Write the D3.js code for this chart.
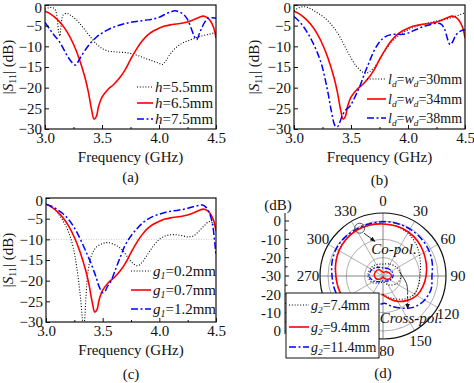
<!DOCTYPE html>
<html><head><meta charset="utf-8">
<script src="https://cdn.jsdelivr.net/npm/d3@7"></script>
<style>
body{margin:0;background:#fff}
svg{display:block}
text{font-family:"Liberation Serif","Times New Roman",serif;fill:#111}
</style>
</head><body>
<svg id="chart" width="474" height="383"></svg>
<script>
// ---------------- DATA ----------------
const freqTicks = [3.0, 3.5, 4.0, 4.5];
const freqMinor = [3.25, 3.75, 4.25];
const dbTicks = [0, -5, -10, -15, -20, -25, -30];

// reference design (red curve, shared by a, b, c)
const s11Base = [[3.00,-1.5],[3.05,-2.2],[3.10,-3.3],[3.15,-4.8],[3.20,-6.8],[3.25,-9.5],[3.30,-13],[3.35,-17.5],[3.38,-21],[3.41,-25.5],[3.43,-27.6],[3.45,-27],[3.47,-24.5],[3.50,-22.3],[3.55,-20.5],[3.60,-19.3],[3.65,-17.8],[3.70,-15.8],[3.75,-13.2],[3.80,-10.8],[3.85,-8.8],[3.90,-7.3],[3.95,-6.3],[4.00,-5.6],[4.05,-5.1],[4.10,-4.8],[4.15,-4.6],[4.20,-4.4],[4.25,-4.1],[4.30,-3.6],[4.35,-3.0],[4.39,-2.7],[4.42,-3.0],[4.45,-3.8],[4.48,-5.5],[4.50,-8]];

// (a) h
const a_h55 = [[3.00,-1.0],[3.04,-0.6],[3.08,-0.8],[3.10,-2.0],[3.12,-6.5],[3.13,-7.5],[3.145,-4.0],[3.16,-2.4],[3.19,-2.0],[3.22,-2.4],[3.26,-3.2],[3.30,-4.3],[3.35,-6.0],[3.40,-7.8],[3.45,-9.4],[3.50,-10.5],[3.55,-11.1],[3.60,-11.3],[3.65,-11.4],[3.70,-11.5],[3.75,-11.7],[3.80,-12.1],[3.85,-12.6],[3.90,-13.1],[3.95,-13.6],[4.00,-14.1],[4.03,-14.4],[4.06,-13.5],[4.10,-11.8],[4.15,-10.3],[4.20,-9.3],[4.25,-8.7],[4.30,-8.2],[4.35,-7.7],[4.40,-7.3],[4.45,-7.0],[4.50,-6.6]];
const a_h75 = [[3.00,-4.2],[3.04,-5.8],[3.08,-7.3],[3.12,-8.6],[3.16,-10.5],[3.20,-12.5],[3.24,-14.0],[3.27,-14.5],[3.30,-13.2],[3.35,-11],[3.40,-9.2],[3.45,-7.8],[3.50,-6.8],[3.55,-6.0],[3.60,-5.4],[3.65,-4.9],[3.70,-4.5],[3.75,-4.2],[3.80,-4.0],[3.85,-3.8],[3.90,-3.6],[3.95,-3.4],[4.00,-3.0],[4.05,-2.3],[4.10,-1.7],[4.14,-1.4],[4.18,-1.7],[4.22,-2.4],[4.25,-3.5],[4.28,-5.5],[4.31,-7.6],[4.33,-8.4],[4.36,-6.5],[4.40,-4.2],[4.43,-3.2],[4.47,-3.1],[4.50,-3.2]];
const a_labels = ["*h*=5.5mm", "*h*=6.5mm", "*h*=7.5mm"];

// (b) ld = wd
const b_30 = [[3.00,-1.4],[3.04,-0.7],[3.08,-0.4],[3.12,-0.6],[3.16,-1.1],[3.20,-1.8],[3.25,-2.7],[3.30,-3.9],[3.35,-5.5],[3.40,-7.6],[3.45,-10.2],[3.50,-12.8],[3.55,-14.9],[3.60,-16.2],[3.63,-16.5],[3.66,-16.2],[3.70,-15.2],[3.75,-13.2],[3.80,-11],[3.85,-9.2],[3.90,-7.8],[3.95,-6.8],[4.00,-6.0],[4.05,-5.4],[4.10,-4.9],[4.15,-4.5],[4.20,-4.2],[4.25,-3.9],[4.30,-3.6],[4.35,-3.3],[4.40,-2.9],[4.45,-2.4],[4.50,-1.9]];
const b_38 = [[3.00,-2.8],[3.04,-3.8],[3.08,-5.1],[3.12,-6.8],[3.16,-8.8],[3.20,-11.2],[3.24,-14.2],[3.27,-17.5],[3.30,-21.5],[3.33,-26],[3.36,-29.2],[3.38,-29.5],[3.40,-28.5],[3.42,-27],[3.45,-25.5],[3.49,-24.5],[3.53,-22.5],[3.58,-19.5],[3.62,-16.5],[3.66,-13.8],[3.70,-11.2],[3.74,-9.3],[3.78,-8.1],[3.82,-7.4],[3.88,-7.1],[3.95,-7.1],[4.00,-6.8],[4.05,-6.2],[4.10,-5.6],[4.15,-5.1],[4.20,-4.7],[4.25,-4.4],[4.29,-4.6],[4.32,-5.8],[4.35,-8.5],[4.37,-9.6],[4.39,-9.0],[4.42,-7.3],[4.46,-6.3],[4.50,-6.0]];
const b_labels = ["*l*_d=*w*_d=30mm", "*l*_d=*w*_d=34mm", "*l*_d=*w*_d=38mm"];

// (c) g1
const c_02 = [[3.00,-1.5],[3.05,-2.2],[3.10,-3.5],[3.15,-5.5],[3.20,-8.3],[3.24,-12],[3.27,-16.5],[3.30,-23],[3.32,-29],[3.33,-33],[3.34,-30],[3.355,-23],[3.37,-18],[3.40,-14],[3.44,-12],[3.50,-11],[3.55,-10.8],[3.62,-11.5],[3.67,-12.5],[3.72,-14.3],[3.77,-15.9],[3.81,-16.4],[3.85,-15.5],[3.90,-13.5],[3.95,-11.5],[4.00,-10],[4.05,-9.2],[4.10,-8.9],[4.15,-8.9],[4.20,-9.1],[4.25,-9.4],[4.30,-9.2],[4.35,-8.0],[4.40,-6.6],[4.44,-5.7],[4.48,-6.3],[4.50,-7.5]];
const c_12 = [[3.00,-1.5],[3.05,-2.0],[3.10,-2.8],[3.15,-3.8],[3.20,-5.2],[3.25,-7.2],[3.30,-9.8],[3.35,-12.8],[3.40,-16],[3.44,-19],[3.47,-21.5],[3.50,-22.9],[3.52,-22.6],[3.54,-21.5],[3.57,-20.3],[3.62,-16.8],[3.66,-14.0],[3.70,-11.3],[3.75,-9.2],[3.80,-7.5],[3.85,-6.1],[3.90,-5.1],[3.95,-4.4],[4.00,-3.9],[4.05,-3.5],[4.10,-3.2],[4.15,-3.0],[4.20,-2.8],[4.25,-2.5],[4.30,-2.1],[4.35,-1.8],[4.38,-1.7],[4.41,-2.2],[4.44,-3.5],[4.47,-6.5],[4.49,-11],[4.50,-14]];
const c_labels = ["*g*_1=0.2mm", "*g*_1=0.7mm", "*g*_1=1.2mm"];
const c_refLevel = -10;

// (d) radiation pattern (angle in degrees, clockwise from top; value in dB)
const d_coAngle = [200,220,240,255,270,285,300,315,330,345,360,375,390,405,420,435,450,465,480,495,510,525,535,545];
const d_co74  = [-12,-8,-5.5,-4.8,-4.2,-3.2,-2.2,-1.5,-1.1,-1.2,-1.5,-2.0,-3.0,-4.8,-7,-8.8,-9.8,-10,-10.3,-12.5,-15.5,-18,-19.5,-20.5];
const d_co94  = [-12,-8,-5.5,-4.8,-4.3,-3.3,-2.3,-1.6,-1.2,-1.3,-1.6,-1.8,-2.3,-3.2,-4.4,-5.5,-6.5,-7.5,-8.7,-11.2,-14,-17.3,-19,-20];
const d_co114 = [-11,-6,-3.5,-2.6,-2.2,-1.2,-0.5,-0.4,-0.6,-0.6,-0.4,-0.3,-0.5,-0.8,-1.3,-2.2,-3.3,-2.8,-3.8,-6,-9.8,-13,-15,-14.5];
const d_xAngle = [0,30,60,90,120,150,180,210,240,270,300,330];
const d_x74  = [-23.5,-22.5,-21,-20.2,-21.5,-24.5,-26.7,-25.5,-23,-21.8,-22,-22.8];
const d_x94  = [-28,-27.3,-26.3,-25.3,-26.5,-28.5,-29.5,-28.5,-26.5,-25.3,-25.3,-26];
const d_x114 = [-25.6,-25.2,-24.6,-24.5,-25.5,-26.8,-27.3,-26.5,-24.3,-22.4,-23,-24.5];
const d_angleTicks = [0,30,60,90,120,150,180,270,300,330];
const d_dbTicks = [0,-10,-20,-30,-20,-10,0];
const d_labels = ["*g*_2=7.4mm", "*g*_2=9.4mm", "*g*_2=11.4mm"];

// ---------------- STYLES ----------------
const STY = {
  black: {stroke:"#000", width:1.1, dash:"1,1.8"},
  red:   {stroke:"#ff0000", width:1.6, dash:null},
  blue:  {stroke:"#0000ff", width:1.5, dash:"7,2.5,2,2.5"}
};

const svg = d3.select("#chart");
const defs = svg.append("defs");
defs.append("marker").attr("id","arr").attr("viewBox","0 0 10 10").attr("refX",9).attr("refY",5)
  .attr("markerWidth",6).attr("markerHeight",6).attr("orient","auto")
  .append("path").attr("d","M0,1 L10,5 L0,9 Z").attr("fill","#111");

function rich(t, str, fs){
  let italic=false, i=0, buf="", shifted=false;
  const put=(s,opts)=>{
    const sp=t.append("tspan").text(s).attr("font-style",opts.it?"italic":"normal");
    if(opts.sub){sp.attr("font-size",fs*0.66).attr("dy",shifted?0:3); shifted=true;}
    else{ if(shifted){sp.attr("dy",-3);shifted=false;} }
  };
  const flush=()=>{ if(buf){ put(buf,{it:italic}); buf=""; } };
  while(i<str.length){
    const ch=str[i];
    if(ch==="*"){flush();italic=!italic;i++;}
    else if(ch==="_"){flush();put(str[i+1],{it:true,sub:true});i+=2;}
    else if(ch==="{"){flush();const j=str.indexOf("}",i);put(str.slice(i+1,j),{it:false,sub:true});i=j+1;}
    else {buf+=ch;i++;}
  }
  flush();
}

function styled(sel, s){
  sel.attr("fill","none").attr("stroke",s.stroke).attr("stroke-width",s.width);
  if(s.dash) sel.attr("stroke-dasharray",s.dash);
  return sel;
}

function panel(cfg){
  const g = svg.append("g");
  const x = d3.scaleLinear().domain([3.0,4.5]).range([cfg.l,cfg.r]);
  const y = d3.scaleLinear().domain([-30,0]).range([cfg.b,cfg.t]);
  const cid = "clip"+cfg.id;
  defs.append("clipPath").attr("id",cid).append("rect")
    .attr("x",cfg.l).attr("y",cfg.t).attr("width",cfg.r-cfg.l).attr("height",cfg.b-cfg.t);
  const pl = g.append("g").attr("clip-path",`url(#${cid})`);
  if(cfg.ref!==undefined){
    pl.append("line").attr("x1",x(3.0)).attr("x2",x(4.5)).attr("y1",y(cfg.ref)).attr("y2",y(cfg.ref))
      .attr("stroke","#bbb").attr("stroke-width",0.8).attr("stroke-dasharray","1,1.5");
  }
  const line = d3.line().x(d=>x(d[0])).y(d=>y(d[1])).curve(d3.curveCatmullRom.alpha(0.5));
  cfg.series.forEach(s=>{ styled(pl.append("path").attr("d",line(s.data)), s.sty); });

  const xa = g.append("g").attr("transform",`translate(0,${cfg.b})`)
    .call(d3.axisBottom(x).tickValues(freqTicks).tickFormat(d3.format(".1f")).tickSize(-4).tickSizeOuter(0).tickPadding(3));
  const xm = g.append("g").attr("transform",`translate(0,${cfg.b})`)
    .call(d3.axisBottom(x).tickValues(freqMinor).tickFormat("").tickSize(-2).tickSizeOuter(0));
  const ya = g.append("g").attr("transform",`translate(${cfg.l},0)`)
    .call(d3.axisLeft(y).tickValues(dbTicks).tickSize(-4).tickSizeOuter(0).tickPadding(3));
  [xa,xm,ya].forEach(a=>{ a.selectAll("text").attr("font-size",15).attr("font-family","Liberation Serif").attr("fill","#111"); a.select(".domain").remove(); });
  ya.selectAll(".tick text").filter(d=>d===0).attr("dy","0.5em");
  g.selectAll(".tick line").attr("stroke","#111");
  g.append("rect").attr("x",cfg.l).attr("y",cfg.t).attr("width",cfg.r-cfg.l).attr("height",cfg.b-cfg.t)
    .attr("fill","none").attr("stroke","#111").attr("stroke-width",1.2);

  g.append("text").attr("x",(cfg.l+cfg.r)/2).attr("y",cfg.b+33).attr("text-anchor","middle").attr("font-size",15).text("Frequency (GHz)");
  const yt = g.append("text").attr("transform",`translate(${cfg.yl},${(cfg.t+cfg.b)/2}) rotate(-90)`).attr("text-anchor","middle").attr("font-size",15);
  rich(yt,"|*S*{11}| (dB)",15);
  g.append("text").attr("x",(cfg.l+cfg.r)/2).attr("y",cfg.cap).attr("text-anchor","middle").attr("font-size",15).text(cfg.caption);

  cfg.series.forEach((s,i)=>{
    const yy = cfg.leg.y[i];
    styled(g.append("line").attr("x1",cfg.leg.x0).attr("x2",cfg.leg.x1).attr("y1",yy).attr("y2",yy), s.sty);
    const t = g.append("text").attr("x",cfg.leg.tx).attr("y",yy).attr("dy","0.33em").attr("font-size",cfg.leg.fs);
    rich(t, s.label, cfg.leg.fs);
  });
}

panel({id:"a", l:45, r:216, t:5, b:129, yl:13, cap:182, caption:"(a)",
  leg:{y:[87,103,119], x0:137, x1:153, tx:155, fs:15},
  series:[{data:a_h55,sty:STY.black,label:a_labels[0]},{data:s11Base,sty:STY.red,label:a_labels[1]},{data:a_h75,sty:STY.blue,label:a_labels[2]}]});
panel({id:"b", l:294, r:465, t:5, b:129, yl:259, cap:185, caption:"(b)",
  leg:{y:[79,99,118], x0:367, x1:386, tx:388, fs:14},
  series:[{data:b_30,sty:STY.black,label:b_labels[0]},{data:s11Base,sty:STY.red,label:b_labels[1]},{data:b_38,sty:STY.blue,label:b_labels[2]}]});
panel({id:"c", l:46, r:216, t:198, b:322, yl:13, cap:379, caption:"(c)", ref:c_refLevel,
  leg:{y:[271,290,309], x0:131, x1:151, tx:153, fs:15},
  series:[{data:c_02,sty:STY.black,label:c_labels[0]},{data:s11Base,sty:STY.red,label:c_labels[1]},{data:c_12,sty:STY.blue,label:c_labels[2]}]});

// ---------------- POLAR (d) ----------------
(function(){
  const cx=383, cy=276, R0=55, Rout=63;
  const r = d3.scaleLinear().domain([-30,0]).range([0,R0]);
  const rad = a=>a*Math.PI/180;
  const pt = (a,db)=>[cx+r(db)*Math.sin(rad(a)), cy-r(db)*Math.cos(rad(a))];
  const g = svg.append("g");
  const pg = g.append("g").attr("transform",`translate(${cx},${cy})`);
  [-20,-10,0].forEach(v=>pg.append("circle").attr("r",r(v)).attr("fill","none").attr("stroke","#9a9a9a").attr("stroke-width",0.8));
  d3.range(0,360,30).forEach(a=>{
    pg.append("line").attr("x1",0).attr("y1",0).attr("x2",Rout*Math.sin(rad(a))).attr("y2",-Rout*Math.cos(rad(a)))
      .attr("stroke", a%90===0?"#666":"#9a9a9a").attr("stroke-width",0.8);
  });
  pg.append("circle").attr("r",Rout).attr("fill","none").attr("stroke","#111").attr("stroke-width",1.2);

  // angle labels (180 partly hidden behind the legend, as in the original)
  defs.append("clipPath").attr("id","clipLab").append("rect").attr("x",380).attr("y",330).attr("width",40).attr("height",40);
  d_angleTicks.forEach(a=>{
    const rr=Rout+12;
    const t = g.append("text").attr("x",cx+rr*Math.sin(rad(a))).attr("y",cy-rr*Math.cos(rad(a))).attr("dy","0.35em")
      .attr("text-anchor","middle").attr("font-size",15).text(String(a));
    if(a===180) t.attr("clip-path","url(#clipLab)");
  });

  const lr = d3.lineRadial().angle(d=>rad(d[0])).radius(d=>r(d[1])).curve(d3.curveCatmullRom.alpha(0.5));
  const lrc = d3.lineRadial().angle(d=>rad(d[0])).radius(d=>r(d[1])).curve(d3.curveCatmullRomClosed.alpha(0.5));
  const zipA=(A,V)=>A.map((a,i)=>[a,V[i]]);
  styled(pg.append("path").attr("d",lr(zipA(d_coAngle,d_co114))), STY.blue);
  styled(pg.append("path").attr("d",lr(zipA(d_coAngle,d_co74))), STY.black);
  styled(pg.append("path").attr("d",lr(zipA(d_coAngle,d_co94))), STY.red);
  styled(pg.append("path").attr("d",lrc(zipA(d_xAngle,d_x74))), STY.black);
  styled(pg.append("path").attr("d",lrc(zipA(d_xAngle,d_x114))), {stroke:"#0000ff",width:1.3,dash:"4,1.5,1.5,1.5"});
  styled(pg.append("path").attr("d",lrc(zipA(d_xAngle,d_x94))), {stroke:"#ff0000",width:1.4,dash:null});

  const mk = pt(334,-1);
  g.append("circle").attr("cx",mk[0]).attr("cy",mk[1]).attr("r",5).attr("fill","none").attr("stroke","#445").attr("stroke-width",0.9);
  const a1=pt(336,-4.4), a2=pt(347,-10.6);
  g.append("line").attr("x1",a1[0]).attr("y1",a1[1]).attr("x2",a2[0]).attr("y2",a2[1]).attr("stroke","#111").attr("stroke-width",0.9).attr("marker-end","url(#arr)");
  g.append("text").attr("x",cx+11).attr("y",cy-22).attr("text-anchor","middle").attr("font-size",15).attr("font-style","italic").text("Co-pol.");
  const c1=pt(75,-20.8), c2=pt(108,-16.5), c3=pt(124,-13.8), c4=pt(143,-7.5);
  g.append("path").attr("d",d3.line().curve(d3.curveCatmullRom)([c1,c2,c3]))
    .attr("fill","none").attr("stroke","#222").attr("stroke-width",0.9);
  g.append("line").attr("x1",c3[0]).attr("y1",c3[1]).attr("x2",c3[0]).attr("y2",c4[1]).attr("stroke","#111")
    .attr("stroke-width",0.9).attr("stroke-dasharray","2,1.5").attr("marker-end","url(#arr)");
  g.append("text").attr("x",cx+28).attr("y",cy+47).attr("text-anchor","middle").attr("font-size",15).attr("font-style","italic").text("Cross-pol.");

  const ax = 285;
  g.append("line").attr("x1",ax).attr("x2",ax).attr("y1",cy-Rout).attr("y2",cy+58).attr("stroke","#111").attr("stroke-width",1);
  d_dbTicks.forEach((v,i)=>{
    const sgn = i<3?-1:(i===3?0:1);
    const yy = cy + sgn*r(v);
    g.append("line").attr("x1",ax).attr("x2",ax+4).attr("y1",yy).attr("y2",yy).attr("stroke","#111");
    g.append("text").attr("x",ax-4).attr("y",yy).attr("dy","0.35em").attr("text-anchor","end").attr("font-size",15).text(String(v));
  });
  [-5,-15,-25].forEach(v=>[-1,1].forEach(sgn=>{
    const yy = cy + sgn*r(v);
    g.append("line").attr("x1",ax).attr("x2",ax+2.5).attr("y1",yy).attr("y2",yy).attr("stroke","#111");
  }));
  g.append("text").attr("x",278).attr("y",205).attr("dy","0.35em").attr("text-anchor","middle").attr("font-size",15).text("(dB)");

  const lg = g.append("g");
  lg.append("rect").attr("x",286).attr("y",293).attr("width",93).attr("height",65).attr("fill","#fff").attr("stroke","#111").attr("stroke-width",1);
  const sts=[STY.black,STY.red,STY.blue], ly=[305,327,347];
  d_labels.forEach((lab,i)=>{
    styled(lg.append("line").attr("x1",289).attr("x2",309).attr("y1",ly[i]).attr("y2",ly[i]), sts[i]);
    const t=lg.append("text").attr("x",311).attr("y",ly[i]).attr("dy","0.33em").attr("font-size",14);
    rich(t,lab,14);
  });
  g.append("text").attr("x",cx).attr("y",378).attr("text-anchor","middle").attr("font-size",15).text("(d)");
})();
</script>
</body></html>
